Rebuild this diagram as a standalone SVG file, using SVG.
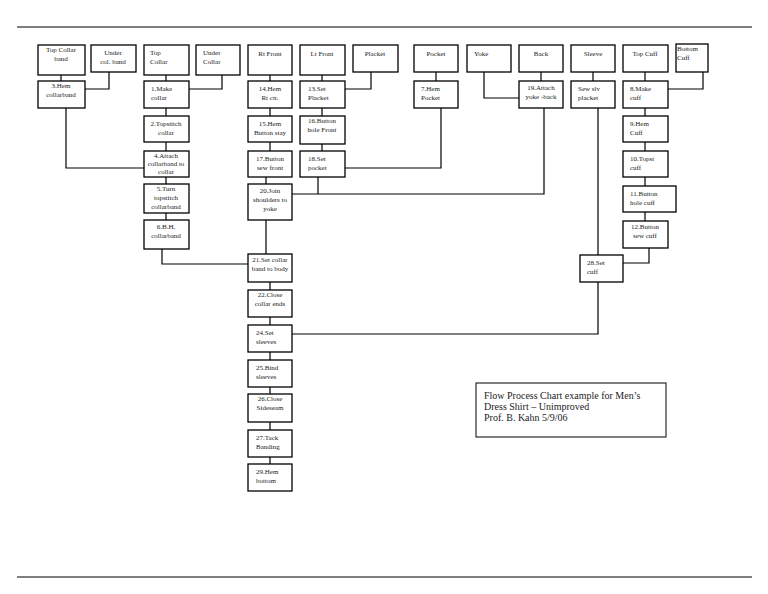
<svg xmlns="http://www.w3.org/2000/svg" width="768" height="594" viewBox="0 0 768 594">
<style>
rect{fill:#fff;stroke:#000;stroke-width:1.3}
text{font-family:"Liberation Serif",serif;font-size:7px;fill:#222}
.c{text-anchor:middle}
#connectors path{fill:none;stroke:#000;stroke-width:1.2}
.big{font-size:10px}
</style>
<rect x="0" y="0" width="768" height="594" style="stroke:none"/>
<path d="M17 27H752M17 577H752" stroke="#000" stroke-width="1"/>
<g id="connectors">
<path d="M61 75V81M85 89H109V72M66 108V168H144"/>
<path d="M166 75V81M189 89H222V75M166 108V116M166 142V151M166 177V184M166 213V220M162 249V264H248"/>
<path d="M270 75V81M270 108V116M270 142V151M266 177V184M266 220V254M270 282V290M270 317V325M270 352V360M270 387V394M270 422V430M270 457V464"/>
<path d="M322 75V81M345 89H371V72M322 108V116M322 144V151M318 177V194M292 194H544V108"/>
<path d="M436 72V81M441 108V168H345M484 72V98H519M541 72V81"/>
<path d="M593 72V81M598 108V255M598 282V334H292"/>
<path d="M645 72V81M703 72V89H668M645 108V116M645 142V151M645 177V186M645 212V221M649 248V263H623"/>
</g>
<g id="n-topcollarband"><rect x="38" y="45" width="47" height="30"/><text class="c" x="61" y="52">Top Collar</text><text class="c" x="61" y="61">band</text></g>
<g id="n-undercolband"><rect x="91" y="45" width="45" height="27"/><text class="c" x="113" y="55">Under</text><text class="c" x="113" y="64">col. band</text></g>
<g id="n-topcollar"><rect x="144" y="45" width="45" height="30"/><text x="150" y="55">Top</text><text x="150" y="64">Collar</text></g>
<g id="n-undercollar"><rect x="196" y="45" width="44" height="30"/><text x="203" y="55">Under</text><text x="203" y="64">Collar</text></g>
<g id="n-rtfront"><rect x="248" y="45" width="44" height="30"/><text class="c" x="270" y="56">Rt Front</text></g>
<g id="n-ltfront"><rect x="300" y="45" width="45" height="30"/><text class="c" x="322" y="56">Lt Front</text></g>
<g id="n-placket"><rect x="353" y="45" width="45" height="27"/><text class="c" x="375" y="56">Placket</text></g>
<g id="n-pocket"><rect x="414" y="45" width="44" height="27"/><text class="c" x="436" y="56">Pocket</text></g>
<g id="n-yoke"><rect x="467" y="45" width="44" height="27"/><text x="474" y="56">Yoke</text></g>
<g id="n-back"><rect x="519" y="45" width="44" height="27"/><text class="c" x="541" y="56">Back</text></g>
<g id="n-sleeve"><rect x="571" y="45" width="44" height="27"/><text class="c" x="593" y="56">Sleeve</text></g>
<g id="n-topcuff"><rect x="623" y="45" width="45" height="27"/><text class="c" x="645" y="56">Top Cuff</text></g>
<g id="n-bottomcuff"><rect x="676" y="44" width="32" height="28"/><text x="677" y="51">Bottom</text><text x="677" y="60">Cuff</text></g>
<g id="n3"><rect x="38" y="81" width="47" height="27"/><text class="c" x="61" y="88">3.Hem</text><text class="c" x="61" y="97">collarband</text></g>
<g id="n1"><rect x="144" y="81" width="45" height="27"/><text x="151" y="91">1.Make</text><text x="151" y="100">collar</text></g>
<g id="n2"><rect x="144" y="116" width="45" height="26"/><text class="c" x="166" y="126">2.Topstitch</text><text class="c" x="166" y="135">collar</text></g>
<g id="n4"><rect x="144" y="151" width="45" height="26"/><text class="c" x="166" y="158">4.Attach</text><text class="c" x="166" y="166">collarband to</text><text class="c" x="166" y="174">collar</text></g>
<g id="n5"><rect x="144" y="184" width="45" height="29"/><text class="c" x="166" y="191">5.Turn</text><text class="c" x="166" y="200">topstitch</text><text class="c" x="166" y="209">collarband</text></g>
<g id="n6"><rect x="144" y="220" width="45" height="29"/><text class="c" x="166" y="229">6.B.H.</text><text class="c" x="166" y="238">collarband</text></g>
<g id="n14"><rect x="248" y="81" width="44" height="27"/><text class="c" x="270" y="91">14.Hem</text><text class="c" x="270" y="100">Rt ctr.</text></g>
<g id="n15"><rect x="248" y="116" width="44" height="26"/><text class="c" x="270" y="126">15.Hem</text><text class="c" x="270" y="135">Button stay</text></g>
<g id="n17"><rect x="248" y="151" width="44" height="26"/><text class="c" x="270" y="161">17.Button</text><text class="c" x="270" y="170">sew front</text></g>
<g id="n20"><rect x="248" y="184" width="44" height="36"/><text class="c" x="270" y="193">20.Join</text><text class="c" x="270" y="202">shoulders to</text><text class="c" x="270" y="211">yoke</text></g>
<g id="n13"><rect x="300" y="81" width="45" height="27"/><text x="308" y="91">13.Set</text><text x="308" y="100">Placket</text></g>
<g id="n16"><rect x="300" y="116" width="45" height="28"/><text class="c" x="322" y="123">16.Button</text><text class="c" x="322" y="132">hole Front</text></g>
<g id="n18"><rect x="300" y="151" width="45" height="26"/><text x="308" y="161">18.Set</text><text x="308" y="170">pocket</text></g>
<g id="n7"><rect x="414" y="81" width="44" height="27"/><text x="421" y="91">7.Hem</text><text x="421" y="100">Pocket</text></g>
<g id="n19"><rect x="519" y="81" width="44" height="27"/><text class="c" x="541" y="90">19.Attach</text><text class="c" x="541" y="99">yoke -back</text></g>
<g id="nsew"><rect x="571" y="81" width="44" height="27"/><text x="578" y="91">Sew slv</text><text x="578" y="100">placket</text></g>
<g id="n8"><rect x="623" y="81" width="45" height="27"/><text x="630" y="91">8.Make</text><text x="630" y="100">cuff</text></g>
<g id="n9"><rect x="623" y="116" width="45" height="26"/><text x="630" y="126">9.Hem</text><text x="630" y="135">Cuff</text></g>
<g id="n10"><rect x="623" y="151" width="45" height="26"/><text x="630" y="161">10.Topst</text><text x="630" y="170">cuff</text></g>
<g id="n11"><rect x="623" y="186" width="53" height="26"/><text x="630" y="196">11.Button</text><text x="630" y="205">hole cuff</text></g>
<g id="n12"><rect x="623" y="221" width="45" height="27"/><text class="c" x="645" y="229">12.Button</text><text class="c" x="645" y="238">sew cuff</text></g>
<g id="n28"><rect x="580" y="255" width="43" height="27"/><text x="587" y="265">28.Set</text><text x="587" y="274">cuff</text></g>
<g id="n21"><rect x="248" y="254" width="44" height="28"/><text class="c" x="270" y="262">21.Set collar</text><text class="c" x="270" y="271">band to body</text></g>
<g id="n22"><rect x="248" y="290" width="44" height="27"/><text class="c" x="270" y="297">22.Close</text><text class="c" x="270" y="306">collar ends</text></g>
<g id="n24"><rect x="248" y="325" width="44" height="27"/><text x="256" y="335">24.Set</text><text x="256" y="344">sleeves</text></g>
<g id="n25"><rect x="248" y="360" width="44" height="27"/><text x="256" y="370">25.Bind</text><text x="256" y="379">sleeves</text></g>
<g id="n26"><rect x="248" y="394" width="44" height="28"/><text class="c" x="270" y="401">26.Close</text><text class="c" x="270" y="410">Sideseam</text></g>
<g id="n27"><rect x="248" y="430" width="44" height="27"/><text x="256" y="440">27.Tack</text><text x="256" y="449">Banding</text></g>
<g id="n29"><rect x="248" y="464" width="44" height="27"/><text x="256" y="474">29.Hem</text><text x="256" y="483">bottom</text></g>
<g id="note"><rect x="476" y="383" width="190" height="54" style="stroke-width:1"/><text class="big" x="484" y="399">Flow Process Chart example for Men’s</text><text class="big" x="484" y="410">Dress Shirt – Unimproved</text><text class="big" x="484" y="421">Prof. B. Kahn 5/9/06</text></g>
</svg>
